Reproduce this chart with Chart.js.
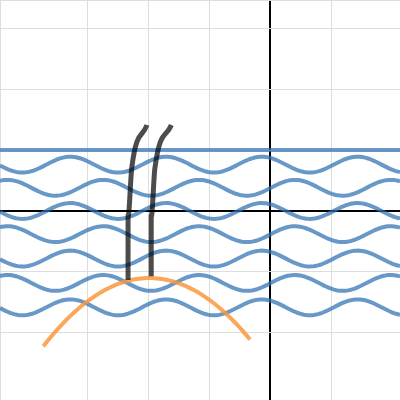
<!DOCTYPE html>
<html><head><meta charset="utf-8">
<script src="https://cdn.jsdelivr.net/npm/chart.js@4"></script>
<style>html,body{margin:0;padding:0;background:#fff}#wrap{width:400px;height:400px}</style>
</head><body><div id="wrap"><canvas id="c"></canvas></div>
<script>
// Desmos-like plot: sea of waves, an island and two strands
const xRange = [-4.43, 2.13];
const yRange = [-3.1, 3.46];
const seaLevel = 1;
const waveCenters = [0.76, 0.38, 0, -0.38, -0.78, -1.18, -1.58];
const wavePhases = [-3.67, -4.70, -3.67, -4.70, -3.67, -4.70, -3.67];
const waveAmp = 0.13;
const waveFreq = 4;
const islandVertex = [-1.98, -1.1];
const islandCoef = -0.37;
const islandEnds = [-3.72, -0.33];
const strand1 = [[-2.33,-1.13],[-2.33,-0.1],[-2.27,0.7],[-2.02,1.41]];
const strand2 = [[-1.95,-1.07],[-1.95,-0.1],[-1.89,0.7],[-1.62,1.41]];

const blue = 'rgba(45,112,179,0.72)';
const sample = (a, b, n, f) => {
  const pts = [];
  for (let i = 0; i <= n; i++) { const x = a + (b - a) * i / n; pts.push({x, y: f(x)}); }
  return pts;
};
const line = (data, color, width, extra) => Object.assign({
  data, borderColor: color, borderWidth: width, showLine: true, pointRadius: 0, fill: false
}, extra || {});

const datasets = [
  line(strand1.map(p => ({x: p[0], y: p[1]})), 'rgba(0,0,0,0.7)', 5, {cubicInterpolationMode: 'monotone'}),
  line(strand2.map(p => ({x: p[0], y: p[1]})), 'rgba(0,0,0,0.7)', 5, {cubicInterpolationMode: 'monotone'}),
  line(sample(islandEnds[0], islandEnds[1], 80, x => islandVertex[1] + islandCoef * (x - islandVertex[0]) ** 2), 'rgba(250,150,60,0.85)', 4),
  line([{x: xRange[0], y: seaLevel}, {x: xRange[1], y: seaLevel}], blue, 4)
];
waveCenters.forEach((c, i) => {
  datasets.push(line(sample(xRange[0], xRange[1], 200, x => c + waveAmp * Math.sin(waveFreq * (x - wavePhases[i]))), blue, 4));
});

const gridOpts = {
  color: ctx => ctx.tick.value === 0 ? '#000' : '#ddd',
  lineWidth: ctx => ctx.tick.value === 0 ? 2 : 1,
  drawTicks: false
};
new Chart(document.getElementById('c'), {
  type: 'scatter',
  data: { datasets },
  options: {
    responsive: true, maintainAspectRatio: false, animation: false,
    layout: { padding: 0 },
    plugins: { legend: { display: false }, tooltip: { enabled: false } },
    scales: {
      x: { type: 'linear', min: xRange[0], max: xRange[1], border: {display: false}, grid: gridOpts, ticks: { display: false, stepSize: 1 } },
      y: { type: 'linear', min: yRange[0], max: yRange[1], border: {display: false}, grid: gridOpts, ticks: { display: false, stepSize: 1 } }
    }
  }
});
</script></body></html>
